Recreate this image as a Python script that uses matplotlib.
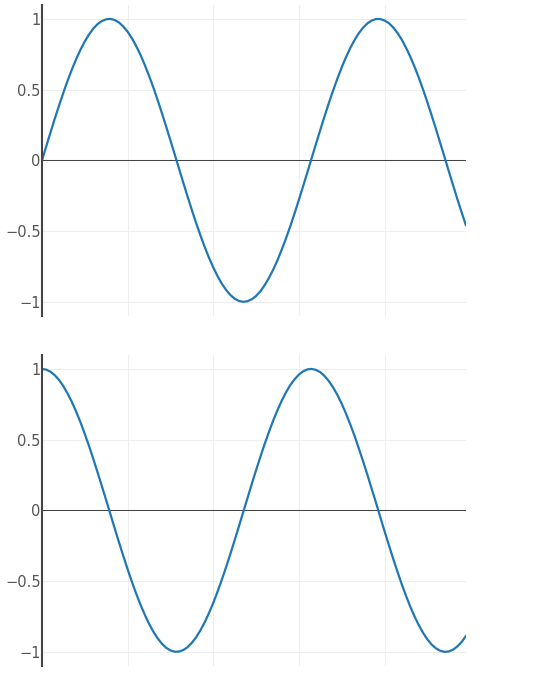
import matplotlib.pyplot as plt

x = [0.0, 0.1, 0.2, 0.3, 0.4, 0.5, 0.6, 0.7, 0.8, 0.9,
     1.0, 1.1, 1.2, 1.3, 1.4, 1.5, 1.6, 1.7, 1.8, 1.9,
     2.0, 2.1, 2.2, 2.3, 2.4, 2.5, 2.6, 2.7, 2.8, 2.9,
     3.0, 3.1, 3.2, 3.3, 3.4, 3.5, 3.6, 3.7, 3.8, 3.9,
     4.0, 4.1, 4.2, 4.3, 4.4, 4.5, 4.6, 4.7, 4.8, 4.9,
     5.0, 5.1, 5.2, 5.3, 5.4, 5.5, 5.6, 5.7, 5.8, 5.9,
     6.0, 6.1, 6.2, 6.3, 6.4, 6.5, 6.6, 6.7, 6.8, 6.9,
     7.0, 7.1, 7.2, 7.3, 7.4, 7.5, 7.6, 7.7, 7.8, 7.9,
     8.0, 8.1, 8.2, 8.3, 8.4, 8.5, 8.6, 8.7, 8.8, 8.9,
     9.0, 9.1, 9.2, 9.3, 9.4, 9.5, 9.6, 9.7, 9.8, 9.9]

# top panel
y_top = [0.000, 0.100, 0.199, 0.296, 0.389, 0.479, 0.565, 0.644, 0.717, 0.783,
         0.841, 0.891, 0.932, 0.964, 0.985, 0.997, 1.000, 0.992, 0.974, 0.946,
         0.909, 0.863, 0.808, 0.746, 0.675, 0.598, 0.516, 0.427, 0.335, 0.239,
         0.141, 0.042, -0.058, -0.158, -0.256, -0.351, -0.443, -0.530, -0.612, -0.688,
         -0.757, -0.818, -0.872, -0.916, -0.952, -0.978, -0.994, -1.000, -0.996, -0.982,
         -0.959, -0.926, -0.883, -0.832, -0.773, -0.706, -0.631, -0.551, -0.465, -0.374,
         -0.279, -0.182, -0.083, 0.017, 0.117, 0.215, 0.312, 0.405, 0.494, 0.578,
         0.657, 0.729, 0.794, 0.850, 0.899, 0.938, 0.968, 0.988, 0.999, 0.999,
         0.989, 0.970, 0.941, 0.902, 0.855, 0.798, 0.734, 0.663, 0.585, 0.501,
         0.412, 0.319, 0.223, 0.124, 0.025, -0.075, -0.174, -0.272, -0.366, -0.457]

# bottom panel
y_bottom = [1.000, 0.995, 0.980, 0.955, 0.921, 0.878, 0.825, 0.765, 0.697, 0.622,
            0.540, 0.454, 0.362, 0.267, 0.170, 0.071, -0.029, -0.129, -0.227, -0.323,
            -0.416, -0.505, -0.589, -0.666, -0.737, -0.801, -0.857, -0.904, -0.942, -0.971,
            -0.990, -0.999, -0.998, -0.987, -0.967, -0.936, -0.897, -0.848, -0.791, -0.726,
            -0.654, -0.575, -0.490, -0.401, -0.307, -0.211, -0.112, -0.012, 0.087, 0.187,
            0.284, 0.378, 0.469, 0.554, 0.635, 0.709, 0.776, 0.835, 0.886, 0.927,
            0.960, 0.983, 0.997, 1.000, 0.993, 0.977, 0.950, 0.914, 0.869, 0.816,
            0.754, 0.685, 0.608, 0.527, 0.438, 0.347, 0.252, 0.153, 0.056, -0.046,
            -0.146, -0.243, -0.339, -0.431, -0.519, -0.602, -0.679, -0.749, -0.811, -0.865,
            -0.911, -0.948, -0.975, -0.992, -1.000, -0.997, -0.985, -0.962, -0.931, -0.889]

y_ticks = [-1, -0.5, 0, 0.5, 1]
y_labels = ['\u22121', '\u22120.5', '0', '0.5', '1']
x_grid = [2, 4, 6, 8]

plt.rcParams['font.family'] = ['DejaVu Sans']

fig = plt.figure(figsize=(5.42, 6.78), dpi=100)
ax1 = fig.add_axes([0.0775, 0.534, 0.782, 0.459])
ax2 = fig.add_axes([0.0775, 0.0177, 0.782, 0.459])

for ax, y in [(ax1, y_top), (ax2, y_bottom)]:
    ax.set_xlim(0, 9.9)
    ax.set_ylim(-1.1, 1.1)
    for g in x_grid:
        ax.axvline(g, color='#eeeeee', lw=0.75, zorder=0)
    for t in [-1, -0.5, 0.5, 1]:
        ax.axhline(t, color='#eeeeee', lw=0.75, zorder=0)
    ax.axhline(0, color='#444444', lw=0.75, zorder=1)
    ax.plot(x, y, color='#1f77b4', lw=1.6, zorder=2)
    for s in ['top', 'right', 'bottom']:
        ax.spines[s].set_visible(False)
    ax.spines['left'].set_color('#444444')
    ax.spines['left'].set_linewidth(1.5)
    ax.set_xticks([])
    ax.set_yticks(y_ticks)
    ax.set_yticklabels(y_labels)
    ax.tick_params(axis='y', length=0, pad=1, labelsize=10.5, labelcolor='#555555')

fig.savefig('out.png', dpi=100)
